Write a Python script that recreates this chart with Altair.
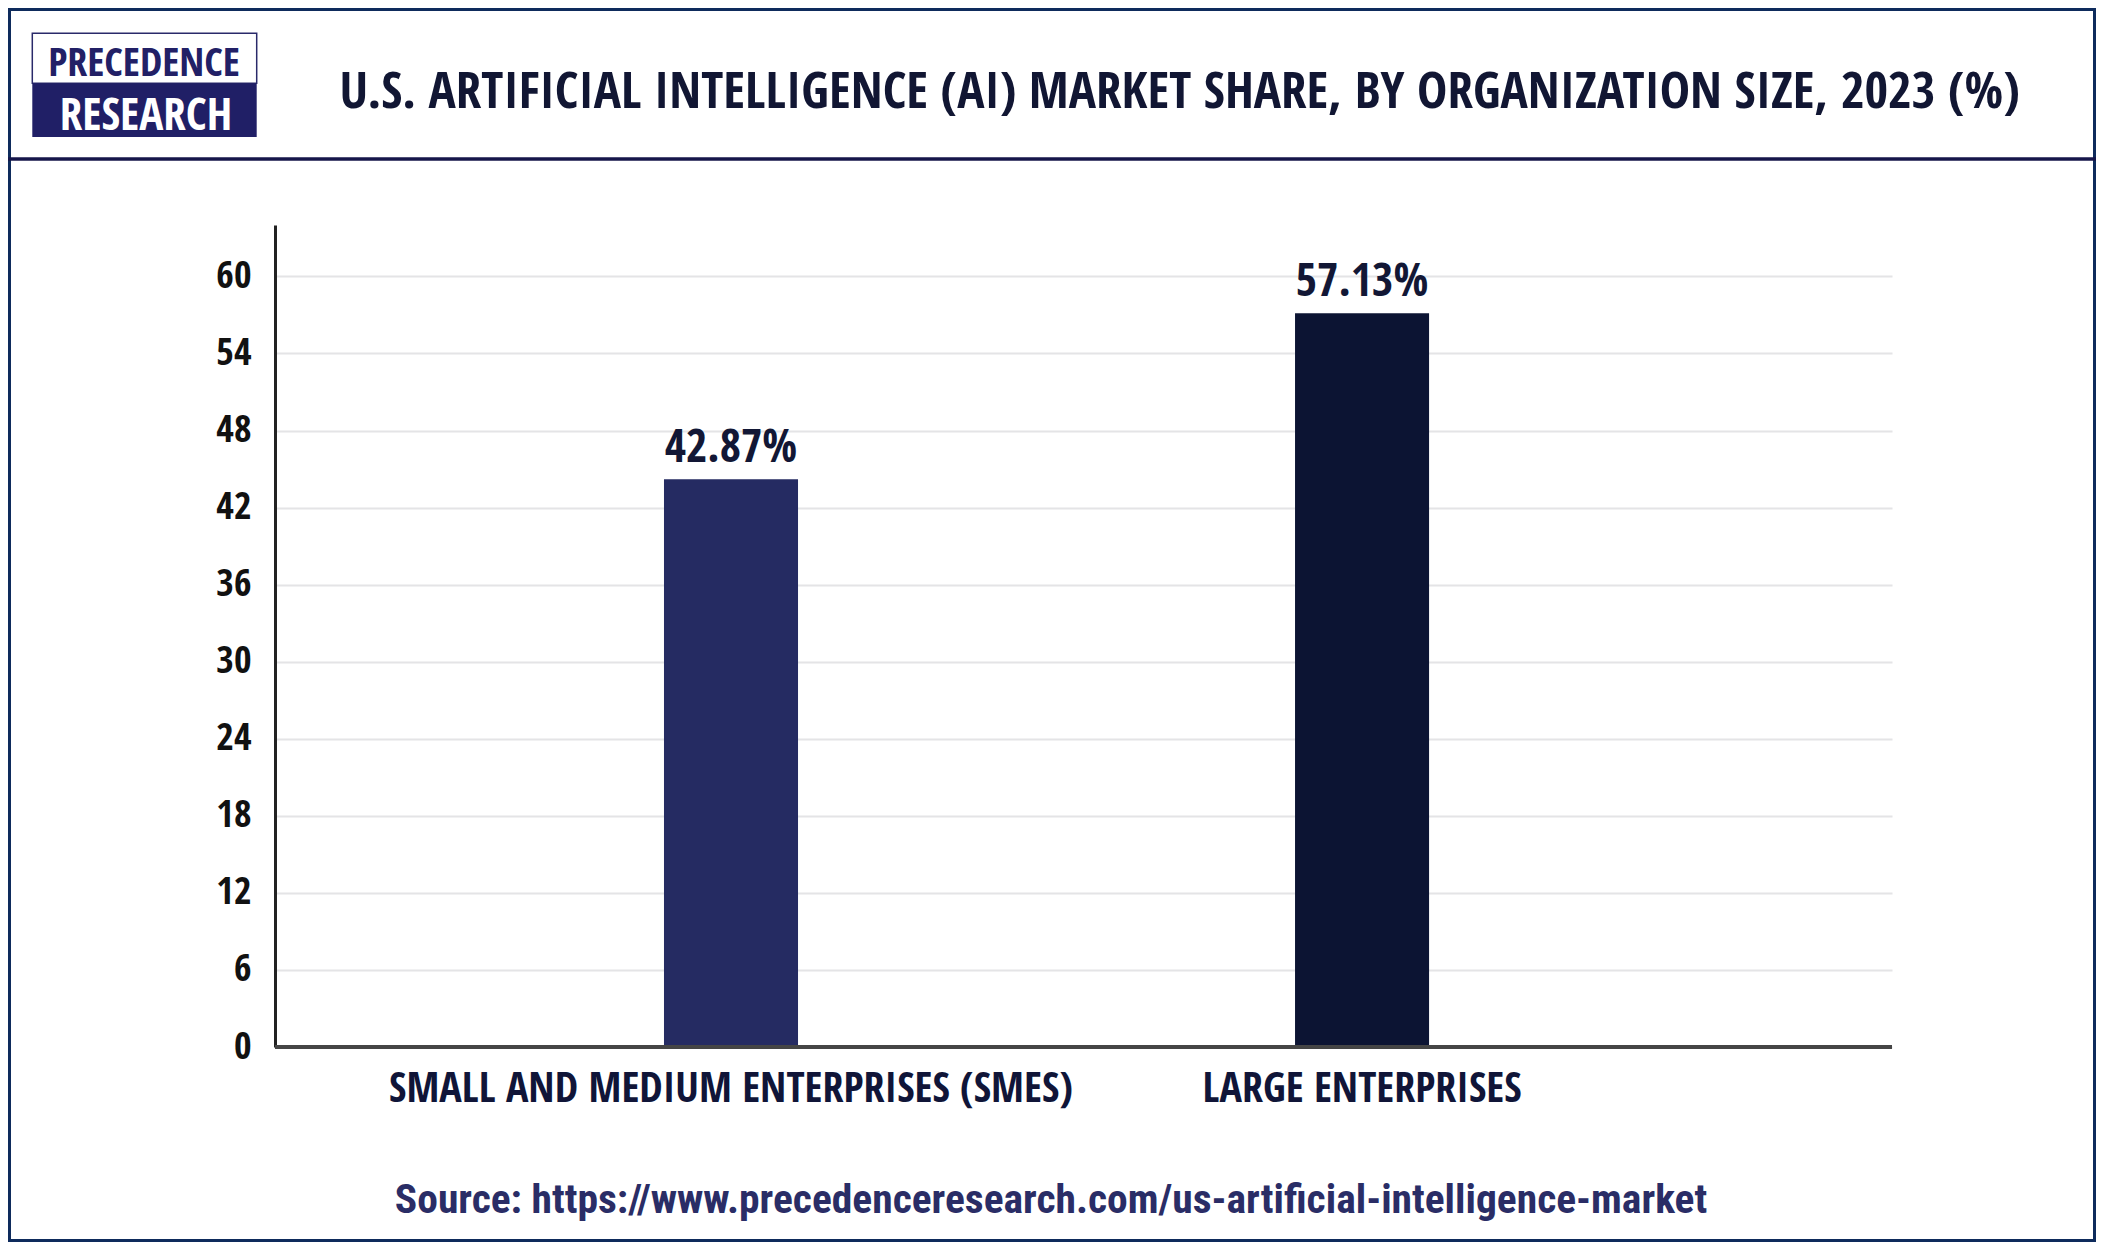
import altair as alt
import pandas as pd

# ---- data ----
categories = ["SMALL AND MEDIUM ENTERPRISES (SMES)", "LARGE ENTERPRISES"]
bar_heights = [44.2, 57.13]          # bar tops as drawn in the picture
value_labels = ["42.87%", "57.13%"]  # printed values
bar_colors = ["#252b62", "#0c1433"]
y_ticks = [0, 6, 12, 18, 24, 30, 36, 42, 48, 54, 60]
title_text = "U.S. ARTIFICIAL INTELLIGENCE (AI) MARKET SHARE, BY ORGANIZATION SIZE, 2023 (%)"
source_text = "Source: https://www.precedenceresearch.com/us-artificial-intelligence-market"
logo_top = "PRECEDENCE"
logo_bottom = "RESEARCH"

COND = "Open Sans Condensed, Roboto Condensed, Liberation Sans, sans-serif"
SRC = "Roboto Condensed, Liberation Sans, sans-serif"

W, H = 1617, 822

df = pd.DataFrame({"category": categories, "height": bar_heights, "label": value_labels})
one = pd.DataFrame({"k": [0]})

x_enc = alt.X(
    "category:N",
    sort=categories,
    scale=alt.Scale(domain=categories, paddingInner=0.7876, paddingOuter=0.675, align=0.4566),
    axis=None,
)
y_scale = alt.Scale(domain=[0, 64], nice=False, zero=True)

bars = alt.Chart(df).mark_bar().encode(
    x=x_enc,
    y=alt.Y(
        "height:Q",
        scale=y_scale,
        axis=alt.Axis(
            values=y_ticks,
            title=None,
            grid=True,
            gridColor="#e4e4e6",
            gridWidth=2,
            domainColor="#222222",
            domainWidth=3,
            ticks=False,
            labelPadding=24,
            labelFont=COND,
            labelFontWeight="bold",
            labelFontSize=38,
            labelColor="#111111",
        ),
    ),
    color=alt.Color("category:N", scale=alt.Scale(domain=categories, range=bar_colors), legend=None),
)

value_text = alt.Chart(df).mark_text(
    font=COND, fontWeight="bold", fontSize=46, color="#121735", baseline="alphabetic", dy=-17
).encode(x=x_enc, y=alt.Y("height:Q", scale=y_scale), text="label:N")

cat_text = alt.Chart(df).mark_text(
    font=COND, fontWeight="bold", fontSize=42, color="#101538", baseline="middle"
).encode(x=x_enc, y=alt.value(864), text="category:N")

baseline = alt.Chart(one).mark_rule(color="#454545", strokeWidth=4).encode(
    x=alt.value(0), x2=alt.value(W), y=alt.value(H)
)

# ---- decorations (frame, header, logo, title, source) ----
frame = alt.Chart(one).mark_rect(fillOpacity=0, stroke="#0e2b5c", strokeWidth=3, clip=False).encode(
    x=alt.value(-265.5), x2=alt.value(1819.5), y=alt.value(-215.5), y2=alt.value(1015.5)
)
header_line = alt.Chart(one).mark_rule(color="#16164a", strokeWidth=3.5, clip=False).encode(
    x=alt.value(-267), x2=alt.value(1821), y=alt.value(-66)
)
logo_white = alt.Chart(one).mark_rect(fill="#ffffff", stroke="#2a2a6a", strokeWidth=1.5, clip=False).encode(
    x=alt.value(-242.7), x2=alt.value(-18.3), y=alt.value(-191.7), y2=alt.value(-141.7)
)
logo_navy = alt.Chart(one).mark_rect(fill="#201f66", clip=False).encode(
    x=alt.value(-242.7), x2=alt.value(-18.3), y=alt.value(-141.7), y2=alt.value(-88)
)
logo_t1 = alt.Chart(one).mark_text(
    text=logo_top, font=COND, fontWeight="bold", fontSize=40, color="#222066",
    baseline="alphabetic", align="center"
).encode(x=alt.value(-131), y=alt.value(-149))
logo_t2 = alt.Chart(one).mark_text(
    text=logo_bottom, font=COND, fontWeight="bold", fontSize=45, color="#ffffff",
    baseline="alphabetic", align="center"
).encode(x=alt.value(-129), y=alt.value(-95))
title = alt.Chart(one).mark_text(
    text=title_text, font=COND, fontWeight="bold", fontSize=51, color="#111633",
    baseline="middle", align="left"
).encode(x=alt.value(64.5), y=alt.value(-132.4))
source = alt.Chart(one).mark_text(
    text=source_text, font=SRC, fontWeight="bold", fontSize=41.5, color="#2a2d66",
    baseline="middle", align="center"
).encode(x=alt.value(776), y=alt.value(976))

chart = alt.layer(
    bars, baseline, value_text, cat_text,
    frame, header_line, logo_white, logo_navy, logo_t1, logo_t2, title, source,
).properties(
    width=W,
    height=H,
    autosize=alt.AutoSizeParams(type="none"),
    padding={"left": 267, "top": 217, "right": 204, "bottom": 195},
    background="#ffffff",
).configure_view(stroke=None)

chart.save("out.html", embed_options={"renderer": "svg", "actions": False})
